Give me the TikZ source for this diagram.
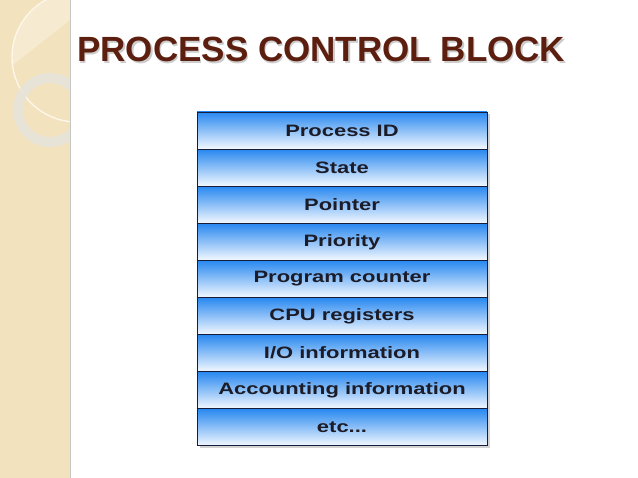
\documentclass[tikz,border=0pt]{standalone}
\usepackage{fontspec}
\setmainfont{Liberation Sans}
\newfontfamily\rowfont[FakeStretch=1.33]{Liberation Sans}
\usepackage{xcolor}
\usetikzlibrary{positioning, shadows}

\definecolor{pcbbrown}{RGB}{92,30,14}
\definecolor{pcbstrip}{RGB}{242,226,189}
\definecolor{pcbglow}{RGB}{246,234,208}
\definecolor{pcbline}{RGB}{252,247,232}
\definecolor{pcbring}{RGB}{232,228,218}
\definecolor{pcbblue}{RGB}{40,136,240}
\definecolor{pcbmid}{RGB}{130,190,250}
\definecolor{pcbpale}{RGB}{244,249,255}
\definecolor{pcbedge}{RGB}{20,30,60}
\definecolor{pcbtext}{RGB}{28,28,40}

\begin{document}
\begin{tikzpicture}[x=1pt, y=-1pt,
    heading/.style={font=\fontsize{35}{40}\selectfont\bfseries, anchor=base west, inner sep=0pt},
    row/.style={draw=pcbedge, line width=0.9pt, top color=pcbblue, middle color=pcbmid, bottom color=pcbpale,
        minimum width=290pt, minimum height=37.1pt, inner sep=0pt, outer sep=0pt,
        font=\rowfont\fontsize{16.5}{18}\selectfont\bfseries, text=pcbtext,
        drop shadow={shadow xshift=2.5pt, shadow yshift=-2.5pt, opacity=0.35, fill=gray}},
]
\useasboundingbox (0,0) rectangle (638,478);

% side strip
\fill[pcbstrip] (0,0) rectangle (70,478);
\begin{scope}
    \clip (0,0) rectangle (70,478);
    \begin{scope}
        \clip (0,0) -- (70,0) -- (70,20) -- (0,75) -- cycle;
        \fill[pcbglow] (77,57) circle (65);
    \end{scope}
    \draw[pcbline, line width=1.4pt] (77,57) circle (65);
    \draw[pcbring, line width=10pt, opacity=0.9] (50,110) circle (32);
\end{scope}
\draw[gray!45, line width=1.5pt] (70.5,0) -- (70.5,478);

% title
\node[heading, text=gray!40] (headshadow) at (78.5,63.5) {PROCESS CONTROL BLOCK};
\node[heading, text=pcbbrown] (head) at (77,62) {PROCESS CONTROL BLOCK};

% the block
\node[row] (pid) at (342,130.55) {Process ID};
\node[row, below=0pt of pid] (state) {State};
\node[row, below=0pt of state] (pointer) {Pointer};
\node[row, below=0pt of pointer] (priority) {Priority};
\node[row, below=0pt of priority] (pc) {Program counter};
\node[row, below=0pt of pc] (cpu) {CPU registers};
\node[row, below=0pt of cpu] (io) {I/O information};
\node[row, below=0pt of io] (acct) {Accounting information};
\node[row, below=0pt of acct] (etc) {etc...};

\end{tikzpicture}
\end{document}
